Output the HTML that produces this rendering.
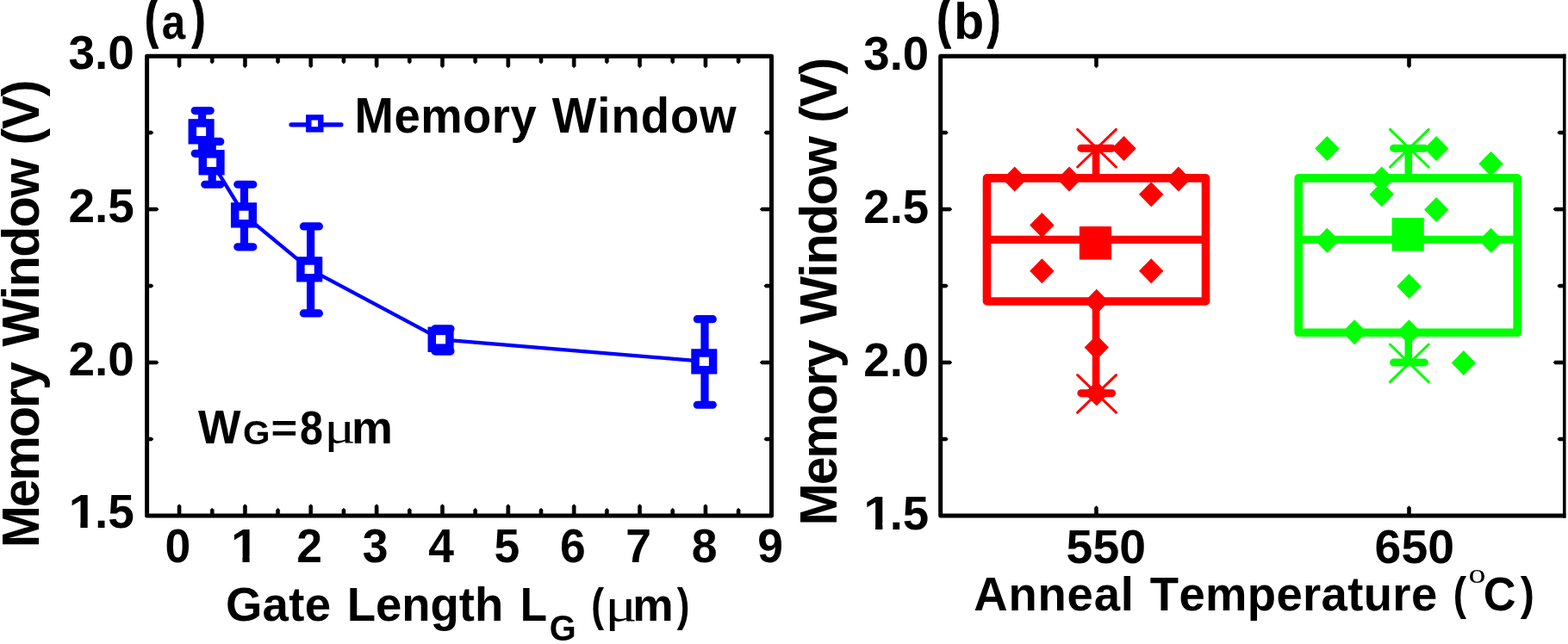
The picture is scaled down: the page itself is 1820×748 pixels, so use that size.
<!DOCTYPE html>
<html lang="en">
<head>
<meta charset="utf-8">
<title>Memory Window vs Gate Length and Anneal Temperature</title>
<style>
html, body { margin: 0; padding: 0; background: #fff; }
body { width: 1820px; height: 748px; overflow: hidden; font-family: "Liberation Sans", sans-serif; }
svg { display: block; }
text { font-kerning: none; }
</style>
</head>
<body>
<svg width="1820" height="748" viewBox="0 0 1820 748">
<rect x="0" y="0" width="1820" height="748" fill="#fff"/>
<g id="panel-a">
<rect x="170.6" y="65.15" width="724.9" height="533.85" fill="none" stroke="#000" stroke-width="5.0" stroke-linejoin="round"/>
<path d="M206.05 65.15V77.05L208.05 78.85L210.05 77.05V65.15ZM206.05 599V587.5L208.05 585.7L210.05 587.5V599ZM244.23 65.15V72.25L246.23 74.05L248.23 72.25V65.15ZM244.23 599V592.1L246.23 590.3L248.23 592.1V599ZM282.41 65.15V77.05L284.41 78.85L286.41 77.05V65.15ZM282.41 599V587.5L284.41 585.7L286.41 587.5V599ZM320.59 65.15V72.25L322.59 74.05L324.59 72.25V65.15ZM320.59 599V592.1L322.59 590.3L324.59 592.1V599ZM358.77 65.15V77.05L360.77 78.85L362.77 77.05V65.15ZM358.77 599V587.5L360.77 585.7L362.77 587.5V599ZM396.95 65.15V72.25L398.95 74.05L400.95 72.25V65.15ZM396.95 599V592.1L398.95 590.3L400.95 592.1V599ZM435.13 65.15V77.05L437.13 78.85L439.13 77.05V65.15ZM435.13 599V587.5L437.13 585.7L439.13 587.5V599ZM473.31 65.15V72.25L475.31 74.05L477.31 72.25V65.15ZM473.31 599V592.1L475.31 590.3L477.31 592.1V599ZM511.49 65.15V77.05L513.49 78.85L515.49 77.05V65.15ZM511.49 599V587.5L513.49 585.7L515.49 587.5V599ZM549.67 65.15V72.25L551.67 74.05L553.67 72.25V65.15ZM549.67 599V592.1L551.67 590.3L553.67 592.1V599ZM587.85 65.15V77.05L589.85 78.85L591.85 77.05V65.15ZM587.85 599V587.5L589.85 585.7L591.85 587.5V599ZM626.03 65.15V72.25L628.03 74.05L630.03 72.25V65.15ZM626.03 599V592.1L628.03 590.3L630.03 592.1V599ZM664.21 65.15V77.05L666.21 78.85L668.21 77.05V65.15ZM664.21 599V587.5L666.21 585.7L668.21 587.5V599ZM702.39 65.15V72.25L704.39 74.05L706.39 72.25V65.15ZM702.39 599V592.1L704.39 590.3L706.39 592.1V599ZM740.57 65.15V77.05L742.57 78.85L744.57 77.05V65.15ZM740.57 599V587.5L742.57 585.7L744.57 587.5V599ZM778.75 65.15V72.25L780.75 74.05L782.75 72.25V65.15ZM778.75 599V592.1L780.75 590.3L782.75 592.1V599ZM816.93 65.15V77.05L818.93 78.85L820.93 77.05V65.15ZM816.93 599V587.5L818.93 585.7L820.93 587.5V599ZM855.11 65.15V72.25L857.11 74.05L859.11 72.25V65.15ZM855.11 599V592.1L857.11 590.3L859.11 592.1V599ZM170.6 508.02H176.2L178 510.02L176.2 512.02H170.6ZM895.5 508.02H888.6L886.8 510.02L888.6 512.02H895.5ZM170.6 419.05H182.3L184.1 421.05L182.3 423.05H170.6ZM895.5 419.05H884L882.2 421.05L884 423.05H895.5ZM170.6 330.08H176.2L178 332.08L176.2 334.08H170.6ZM895.5 330.08H888.6L886.8 332.08L888.6 334.08H895.5ZM170.6 241.1H182.3L184.1 243.1L182.3 245.1H170.6ZM895.5 241.1H884L882.2 243.1L884 245.1H895.5ZM170.6 152.12H176.2L178 154.12L176.2 156.12H170.6ZM895.5 152.12H888.6L886.8 154.12L888.6 156.12H895.5Z" fill="#000" stroke="#000" stroke-width="0.6" stroke-linejoin="round"/>
</g>
<g id="panel-b">
<path d="M1817.4 65.15H1091.7V599H1817.4" fill="none" stroke="#000" stroke-width="5.0" stroke-linejoin="round"/>
<path d="M1815.8 62.65V601.5" fill="none" stroke="#000" stroke-width="3.6"/>
<path d="M1270.5 65.15V77.05L1272.5 78.85L1274.5 77.05V65.15ZM1270.5 599V589.5L1272.5 587.7L1274.5 589.5V599ZM1633.5 65.15V77.05L1635.5 78.85L1637.5 77.05V65.15ZM1633.5 599V589.5L1635.5 587.7L1637.5 589.5V599ZM1091.7 508.02H1098.6L1100.4 510.02L1098.6 512.02H1091.7ZM1815.8 508.02H1809.5L1807.7 510.02L1809.5 512.02H1815.8ZM1091.7 419.05H1103.1L1104.9 421.05L1103.1 423.05H1091.7ZM1815.8 419.05H1804.8L1803 421.05L1804.8 423.05H1815.8ZM1091.7 330.08H1098.6L1100.4 332.08L1098.6 334.08H1091.7ZM1815.8 330.08H1809.5L1807.7 332.08L1809.5 334.08H1815.8ZM1091.7 241.1H1103.1L1104.9 243.1L1103.1 245.1H1091.7ZM1815.8 241.1H1804.8L1803 243.1L1804.8 245.1H1815.8ZM1091.7 152.12H1098.6L1100.4 154.12L1098.6 156.12H1091.7ZM1815.8 152.12H1809.5L1807.7 154.12L1809.5 156.12H1815.8Z" fill="#000" stroke="#000" stroke-width="0.6" stroke-linejoin="round"/>
</g>
<g id="labels" font-family="'Liberation Sans', sans-serif" font-weight="bold" fill="#000">
<clipPath id="nofoot"><rect x="-5" y="-39.77" width="60" height="33.33"/><rect x="12.62" y="-8.75" width="7.55" height="9.75"/></clipPath>
<text transform="translate(79.41 79.9) scale(1.012 1.012)" font-size="54.3">3.0 </text>
<text transform="translate(79.41 257.7) scale(1.012 1.012)" font-size="54.3">2.5 </text>
<text transform="translate(79.41 435.5) scale(1.012 1.012)" font-size="54.3">2.0 </text>
<text transform="translate(79.41 613.3) scale(1.1031 1.012)" font-size="54.3" clip-path="url(#nofoot)">1</text><text transform="translate(109.97 613.3) scale(1.012 1.012)" font-size="54.3">.5 </text>
<text transform="translate(191.53 652.5) scale(0.985 1.012)" font-size="54.3">0 </text>
<text transform="translate(267.93 652.5) scale(1.0736 1.012)" font-size="54.3" clip-path="url(#nofoot)">1 </text>
<text transform="translate(344.33 652.5) scale(0.985 1.012)" font-size="54.3">2 </text>
<text transform="translate(420.73 652.5) scale(0.985 1.012)" font-size="54.3">3 </text>
<text transform="translate(497.13 652.5) scale(0.985 1.012)" font-size="54.3">4 </text>
<text transform="translate(573.53 652.5) scale(0.985 1.012)" font-size="54.3">5 </text>
<text transform="translate(649.93 652.5) scale(0.985 1.012)" font-size="54.3">6 </text>
<text transform="translate(726.33 652.5) scale(0.985 1.012)" font-size="54.3">7 </text>
<text transform="translate(802.73 652.5) scale(0.985 1.012)" font-size="54.3">8 </text>
<text transform="translate(879.13 652.5) scale(0.985 1.012)" font-size="54.3">9 </text>
<text transform="translate(1002.26 81.2) scale(1.006 1.012)" font-size="54.3">3.0 </text>
<text transform="translate(1002.26 259) scale(1.006 1.012)" font-size="54.3">2.5 </text>
<text transform="translate(1002.26 436.8) scale(1.006 1.012)" font-size="54.3">2.0 </text>
<text transform="translate(1002.26 614.6) scale(1.0965 1.012)" font-size="54.3" clip-path="url(#nofoot)">1</text><text transform="translate(1032.64 614.6) scale(1.006 1.012)" font-size="54.3">.5 </text>
<text transform="translate(1237.6 653.8) scale(1.02 1.012)" font-size="54.3">550 </text>
<text transform="translate(1595.6 653.8) scale(1.02 1.012)" font-size="54.3">650 </text>
<text transform="translate(45.2 636.25) rotate(-90) scale(1 1.028)" font-size="59" letter-spacing="-2.054">Memory </text><text transform="translate(45.2 402.46) rotate(-90) scale(1 1.028)" font-size="59" letter-spacing="-1.489">Window </text><text transform="translate(45.2 168.54) rotate(-90) scale(1 1.028)" font-size="59" letter-spacing="-1.385">(V) </text>
<text transform="translate(971.4 610.45) rotate(-90) scale(1 1.028)" font-size="59" letter-spacing="-2.054">Memory </text><text transform="translate(971.4 376.66) rotate(-90) scale(1 1.028)" font-size="59" letter-spacing="-1.489">Window </text><text transform="translate(971.4 142.74) rotate(-90) scale(1 1.028)" font-size="59" letter-spacing="-1.385">(V) </text>
<text transform="translate(261.96 721.3) scale(1 1.03)" font-size="54.5" letter-spacing="0.279">Gate </text><text transform="translate(402.65 721.3) scale(1 1.03)" font-size="54.5" letter-spacing="0.001">Length </text><text transform="translate(603.87 721.3) scale(1.025 1.1163)" font-size="50">L</text><text transform="translate(637.66 744.29) scale(0.7973 0.8333)" font-size="50">G </text><text transform="translate(686.28 721.16) scale(0.8929 1.0642)" font-size="50">(</text><text transform="translate(702.26 720.7) scale(1.3911 1.0939)" font-size="50" font-weight="normal" font-family="'Liberation Serif', serif">μ</text><text transform="translate(734.18 721.3) scale(1.0667 1.0583)" font-size="50">m</text><text transform="translate(785.66 721.16) scale(0.8787 1.0642)" font-size="50">) </text>
<text transform="translate(1130.24 709) scale(1 1.03)" font-size="54.5" letter-spacing="0.803">Anneal </text><text transform="translate(1334.79 709) scale(1 1.03)" font-size="54.5" letter-spacing="0.333">Temperature </text><text transform="translate(1686.71 708.22) scale(0.9212 1.0578)" font-size="50">(</text><text transform="translate(1704.57 677.39) scale(0.8022 0.6404)" font-size="50" font-weight="normal" font-family="'Liberation Serif', serif">o</text><text transform="translate(1721.75 708.65) scale(1.0462 1.1186)" font-size="50">C</text><text transform="translate(1764.75 708.22) scale(0.9709 1.0578)" font-size="50">) </text>
<text transform="translate(168.14 43.22) scale(0.9283 1.2466)" font-size="50" stroke="#000" stroke-width="1.20" stroke-linejoin="round">(</text><text transform="translate(187.85 45.14) scale(0.9865 1.139)" font-size="50">a</text><text transform="translate(222.8 43.22) scale(0.9354 1.2466)" font-size="50" stroke="#000" stroke-width="1.19" stroke-linejoin="round">) </text>
<text transform="translate(1087.55 43.22) scale(0.9638 1.2466)" font-size="50" stroke="#000" stroke-width="1.18" stroke-linejoin="round">(</text><text transform="translate(1107.23 45.12) scale(1.1431 1.1792)" font-size="50">b</text><text transform="translate(1145.91 43.22) scale(0.9071 1.2466)" font-size="50" stroke="#000" stroke-width="1.21" stroke-linejoin="round">) </text>
<text transform="translate(411.55 153.6) scale(1 1.045)" font-size="54.5" letter-spacing="0.452">Memory </text><text transform="translate(640.85 153.6) scale(1 1.045)" font-size="54.5" letter-spacing="1">Window </text>
<text transform="translate(230.05 515.4) scale(1.0489 1.1163)" font-size="50">W</text><text transform="translate(281.94 515.62) scale(0.8091 0.7684)" font-size="50">G</text><text transform="translate(314.41 513.39) scale(1.0529 0.8996)" font-size="50">=</text><text transform="translate(348.06 515.65) scale(0.9683 1.1271)" font-size="50">8</text><text transform="translate(376.2 514.09) scale(1.3573 1.076)" font-size="50" font-weight="normal" font-family="'Liberation Serif', serif">μ</text><text transform="translate(408.05 515.4) scale(1.0772 1.0695)" font-size="50">m </text>
</g>
<g id="series-a" stroke="#0000ff" fill="none">
<path d="M234.1 152.83L246.1 188.75L283.5 249.91L359.7 312.85L512.1 394.29L817.8 419.89" stroke-width="4.3" stroke-linejoin="round"/>
<path d="M234.6 128.54V178.33M226.2 128.54H244.2M226.2 178.33H244.2M246.2 164.46V214.24M237.8 164.46H255.8M237.8 214.24H255.8M283.5 214.24V286.78M275.8 214.24H293.8M275.8 286.78H293.8M360.6 262.96V363.95M352.4 262.96H370.4M352.4 363.95H370.4M513 381.73V408.04M505 381.73H523M505 408.04H523M818 370.7V470.27M809.3 370.7H827.3M809.3 470.27H827.3" stroke-width="9.2" stroke-linecap="round"/>
<rect x="223.3" y="142.93" width="20.6" height="19.8" fill="#fff" stroke-width="9.5"/>
<rect x="235.3" y="178.85" width="20.6" height="19.8" fill="#fff" stroke-width="9.5"/>
<rect x="272.7" y="240.01" width="20.6" height="19.8" fill="#fff" stroke-width="9.5"/>
<rect x="348.9" y="302.95" width="20.6" height="19.8" fill="#fff" stroke-width="9.5"/>
<rect x="501.3" y="384.39" width="20.6" height="19.8" fill="#fff" stroke-width="9.5"/>
<rect x="807" y="409.99" width="20.6" height="19.8" fill="#fff" stroke-width="9.5"/>
<path d="M338 144.8H396" stroke-width="5.2" stroke-linecap="round"/>
<rect x="358.3" y="136.4" width="14" height="14" fill="#fff" stroke-width="6.4"/>
</g>
<g id="series-b">
<g stroke="#ff0000" fill="#ff0000">
<path d="M1272.1 171.68V207.24M1272.1 349.48V456.16" fill="none" stroke-width="8.6"/>
<path d="M1254.9 172.18H1290.7M1254.9 456.66H1290.7" fill="none" stroke-width="9" stroke-linecap="round"/>
<rect x="1145.5" y="206.84" width="254" height="143.14" fill="none" stroke-width="9.6" stroke-linejoin="round"/>
<path d="M1145.5 278.36H1399.5" fill="none" stroke-width="9.2"/>
<rect x="1252.9" y="262.97" width="37.2" height="38.6" stroke="none"/>
<path d="M1250.7 150.38L1295.5 193.98M1250.7 193.98L1295.5 150.38M1250.7 435.56L1295.5 479.16M1250.7 479.16L1295.5 435.56" fill="none" stroke-width="3" stroke-linecap="round"/>
<path d="M1163.5 208.04L1177.7 193.54L1191.9 208.04L1177.7 222.54ZM1226.9 208.04L1241.1 193.54L1255.3 208.04L1241.1 222.54ZM1353.7 208.04L1367.9 193.54L1382.1 208.04L1367.9 222.54ZM1290.3 172.48L1304.5 157.98L1318.7 172.48L1304.5 186.98ZM1322 225.82L1336.2 211.32L1350.4 225.82L1336.2 240.32ZM1195.2 261.38L1209.4 246.88L1223.6 261.38L1209.4 275.88ZM1195.2 314.72L1209.4 300.22L1223.6 314.72L1209.4 329.22ZM1322 314.72L1336.2 300.22L1350.4 314.72L1336.2 329.22ZM1258.6 350.28L1272.8 335.78L1287 350.28L1272.8 364.78ZM1258.6 403.62L1272.8 389.12L1287 403.62L1272.8 418.12ZM1258.6 456.96L1272.8 442.46L1287 456.96L1272.8 471.46Z" stroke="none"/>
</g>
<g stroke="#00ff00" fill="#00ff00">
<path d="M1634.8 171.68V207.24M1634.8 385.75V420.6" fill="none" stroke-width="8.6"/>
<path d="M1617.6 172.18H1653.4M1617.6 421.1H1653.4" fill="none" stroke-width="9" stroke-linecap="round"/>
<rect x="1507.2" y="206.84" width="254" height="179.41" fill="none" stroke-width="9.6" stroke-linejoin="round"/>
<path d="M1507.2 278.36H1761.2" fill="none" stroke-width="9.2"/>
<rect x="1615.6" y="253.01" width="37.2" height="38.6" stroke="none"/>
<path d="M1613.4 150.38L1658.2 193.98M1613.4 193.98L1658.2 150.38M1613.4 400L1658.2 443.6M1613.4 443.6L1658.2 400" fill="none" stroke-width="3" stroke-linecap="round"/>
<path d="M1526.2 172.48L1540.4 157.98L1554.6 172.48L1540.4 186.98ZM1653 172.48L1667.2 157.98L1681.4 172.48L1667.2 186.98ZM1716.4 190.26L1730.6 175.76L1744.8 190.26L1730.6 204.76ZM1589.6 208.04L1603.8 193.54L1618 208.04L1603.8 222.54ZM1589.6 225.82L1603.8 211.32L1618 225.82L1603.8 240.32ZM1653 243.6L1667.2 229.1L1681.4 243.6L1667.2 258.1ZM1526.2 279.16L1540.4 264.66L1554.6 279.16L1540.4 293.66ZM1716.4 279.16L1730.6 264.66L1744.8 279.16L1730.6 293.66ZM1621.3 332.5L1635.5 318L1649.7 332.5L1635.5 347ZM1557.9 385.84L1572.1 371.34L1586.3 385.84L1572.1 400.34ZM1621.3 385.84L1635.5 371.34L1649.7 385.84L1635.5 400.34ZM1684.7 421.4L1698.9 406.9L1713.1 421.4L1698.9 435.9Z" stroke="none"/>
</g>
</g>
</svg>
</body>
</html>
